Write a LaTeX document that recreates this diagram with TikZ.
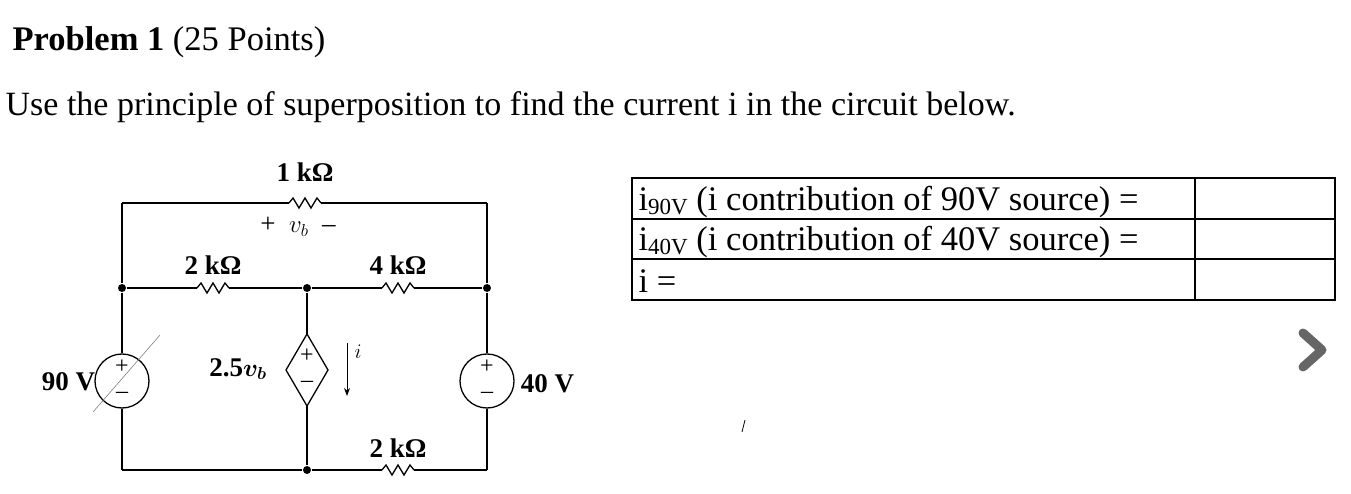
\documentclass[tikz,border=0pt]{standalone}
\usepackage{amsmath}
\usepackage{fontspec}
\setmainfont{Liberation Serif}
\usetikzlibrary{arrows.meta}
\begin{document}
\begin{tikzpicture}[x=1pt,y=-1pt,line width=1.3pt,
  dot/.style={circle,fill,inner sep=0pt,minimum size=8pt},
  lbl/.style={font=\fontsize{27}{30}\selectfont},
  sgn/.style={font=\fontsize{24}{24}\selectfont,inner sep=0pt,text height=1.2ex,text depth=0pt},
  tx/.style={font=\fontsize{34.5}{38}\selectfont,anchor=base west,inner sep=0pt},
  res/.pic={\draw (-16,0)--(-12,-5)--(-6,5)--(0,-5)--(6,5)--(12,-5)--(16,0);}]
\useasboundingbox (0,0) rectangle (1351,494);
% text
\node[tx] (t1) at (12,51) {\textbf{Problem 1} (25 Points)};
\node[tx,font=\fontsize{34}{38}\selectfont] (t2) at (5,116) {Use the principle of superposition to find the current i in the circuit below.};
% nodes
\coordinate (TL) at (122,203); \coordinate (TR) at (487,203);
\node[dot] (ML) at (122,288) {}; \node[dot] (MM) at (307,288) {}; \node[dot] (MR) at (487,288) {};
\coordinate (BL) at (122,470); \node[dot] (BM) at (307,470) {}; \coordinate (BR) at (487,470);
\node[circle,draw,minimum size=54pt,inner sep=0pt] (S1) at (122,381) {};
\node[circle,draw,minimum size=54pt,inner sep=0pt] (S2) at (487,381) {};
% resistors
\pic at (305,203) {res}; \pic at (213,288) {res}; \pic at (398,288) {res}; \pic at (398,470) {res};
\draw (TL)--(289,203) (321,203)--(TR);
\draw (ML)--(197,288) (229,288)--(MM)--(382,288) (414,288)--(MR);
\draw (BL)--(BM)--(382,470) (414,470)--(BR);
\draw (TL)--(ML)--(S1.north) (S1.south)--(BL);
\draw (TR)--(MR)--(S2.north) (S2.south)--(BR);
\draw (MM)--(307,334) (307,406)--(BM);
\draw (307,334)--(328,370)--(307,406)--(286,370)--cycle;
% signs
\node[sgn] (p1) at (122,371) {+}; \node[sgn] (m1) at (122,396) {--};
\node[sgn] (p2) at (487,371) {+}; \node[sgn] (m2) at (487,396) {--};
\node[sgn] (p3) at (307,360) {+}; \node[sgn] (m3) at (307,385) {--};
\draw[line width=0.6pt,gray] (93,412)--(160,335);
% labels
\node[lbl] (l1) at (305,172) {\textbf{1 kΩ}};
\node[lbl] (l2) at (298,227) {+\enspace $v_b$\enspace --};
\node[lbl] (l3) at (213,265) {\textbf{2 kΩ}};
\node[lbl] (l4) at (398,265) {\textbf{4 kΩ}};
\node[lbl] (l5) at (398,448) {\textbf{2 kΩ}};
\node[lbl,anchor=east] (l6) at (99,382) {\textbf{90 V}};
\node[lbl,anchor=west] (l7) at (517,384) {\textbf{40 V}};
\node[lbl] (l8) at (238,369) {\textbf{2.5}$\boldsymbol{v_b}$};
\coordinate (ia) at (347,343); \coordinate (ib) at (347,396);
\draw[line width=1pt,-{Stealth[length=8pt]}] (ia)--(ib);
\node[lbl,font=\fontsize{22}{24}\selectfont] (il) at (358,352) {$i$};
% table
\draw[line width=1.2pt] (632,178) rectangle (1335,300) (1195,178)--(1195,300)
  (632,219)--(1335,219) (632,259)--(1335,259);
\node[tx] (r1) at (638,211) {i\raisebox{-0.25ex}{\fontsize{23}{25}\selectfont 90V} (i contribution of 90V source) =};
\node[tx] (r2) at (638,251) {i\raisebox{-0.25ex}{\fontsize{23}{25}\selectfont 40V} (i contribution of 40V source) =};
\node[tx] (r3) at (638,292) {i =};
% chevron
\draw[line width=9pt,gray!80!black,line cap=round,line join=round] (1303,333)--(1322,350)--(1303,367);
\draw[line width=0.8pt] (745,420)--(742,432);
\end{tikzpicture}
\end{document}
